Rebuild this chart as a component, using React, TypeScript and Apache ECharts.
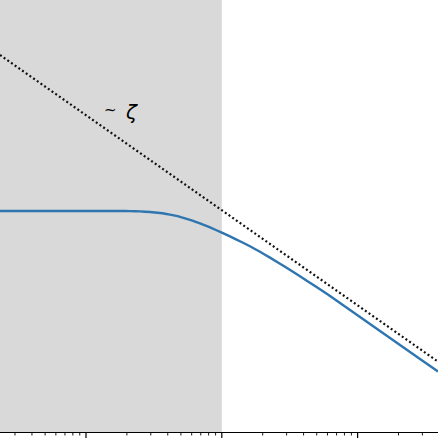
import { FC, useEffect, useRef } from 'react';
import * as echarts from 'echarts';

// x 轴（对数）的显示范围
const xMin = 0.2327;
const xMax = 390.8;
// y 轴（对数）的显示范围
const yMin = 0.02359;
const yMax = 35.79;

// 蓝色曲线
const curveX = [
  0.2327, 0.4585, 0.903, 1.268, 1.78, 2.109, 2.498, 2.96, 3.507, 3.817, 4.523, 4.922, 5.834, 6.348, 7.521, 8.188, 10,
  12.51, 16.13, 19.11, 22.64, 29.2, 37.65, 48.57, 62.64, 123.4, 205.2, 390.8,
];
const curveY = [
  1.0, 1.0, 1.0, 1.0, 1.0, 0.9983, 0.9932, 0.9832, 0.9667, 0.9553, 0.925, 0.9064, 0.8613, 0.8368, 0.7846, 0.757,
  0.6934, 0.624, 0.5497, 0.5006, 0.4538, 0.3882, 0.3304, 0.2799, 0.2366, 0.1472, 0.1031, 0.0658,
];

// 黑色点线（渐近线 ~ ζ）
const guideX = [0.2327, 10, 390.8];
const guideY = [14.08, 1.0136, 0.0778];

// 灰色阴影区域右边界
const shadeEnd = 10;

// 刻度
const majorTicks = [1, 10, 100];
const minorTicks = [0.3, 0.4, 0.5, 0.6, 0.7, 0.8, 0.9, 2, 3, 4, 5, 6, 7, 8, 9, 20, 30, 40, 50, 60, 70, 80, 90, 200, 300];

const tickSeries = (ticks: number[], len: number, width: number) => ({
  type: 'custom',
  silent: true,
  clip: false,
  z: 5,
  data: ticks.map((t) => [t, yMin]),
  renderItem: (_params: any, api: any) => {
    const p = api.coord([api.value(0), api.value(1)]);
    return {
      type: 'line',
      shape: { x1: p[0], y1: p[1], x2: p[0], y2: p[1] + len },
      style: { stroke: '#000', lineWidth: width },
    };
  },
});

const App: FC = () => {
  const chartDom = useRef<HTMLDivElement>(null);

  useEffect(() => {
    const chart = echarts.init(chartDom.current, null, { renderer: 'svg' });

    const option = {
      animation: false,
      backgroundColor: '#fff',
      grid: { left: 0, right: 0, top: 0, bottom: 6 },
      xAxis: {
        type: 'log',
        min: xMin,
        max: xMax,
        axisLine: { show: true, lineStyle: { color: '#000', width: 1.2 } },
        axisTick: { show: false },
        axisLabel: { show: false },
        splitLine: { show: false },
      },
      yAxis: {
        type: 'log',
        min: yMin,
        max: yMax,
        show: false,
        splitLine: { show: false },
      },
      series: [
        {
          type: 'line',
          data: guideX.map((x, i) => [x, guideY[i]]),
          showSymbol: false,
          z: 3,
          lineStyle: { color: '#111', width: 2.2, type: [2, 2.5], cap: 'butt' },
          markArea: {
            silent: true,
            itemStyle: { color: '#d9d9d9' },
            data: [[{ xAxis: xMin }, { xAxis: shadeEnd }]],
          },
        },
        {
          type: 'line',
          data: curveX.map((x, i) => [x, curveY[i]]),
          showSymbol: false,
          smooth: 0.15,
          z: 4,
          lineStyle: { color: '#2f75b0', width: 2.4 },
        },
        tickSeries(majorTicks, 7, 1.2),
        tickSeries(minorTicks, 3.5, 0.9),
      ],
      graphic: [
        {
          type: 'text',
          x: 104,
          y: 110,
          z: 100,
          style: {
            text: '~',
            fontSize: 15,
            fontFamily: 'DejaVu Sans',
            fill: '#000',
            textVerticalAlign: 'middle',
          },
        },
        {
          type: 'text',
          x: 126,
          y: 112,
          z: 100,
          style: {
            text: 'ζ',
            fontSize: 20,
            fontStyle: 'italic',
            fontFamily: 'DejaVu Sans',
            fill: '#000',
            textVerticalAlign: 'middle',
          },
        },
      ],
    };

    chart.setOption(option);

    return () => {
      chart.dispose();
    };
  }, []);

  return (
    <div
      ref={chartDom}
      style={{ position: 'fixed', left: 0, top: 0, width: 438, height: 438 }}
    />
  );
};

export default App;
